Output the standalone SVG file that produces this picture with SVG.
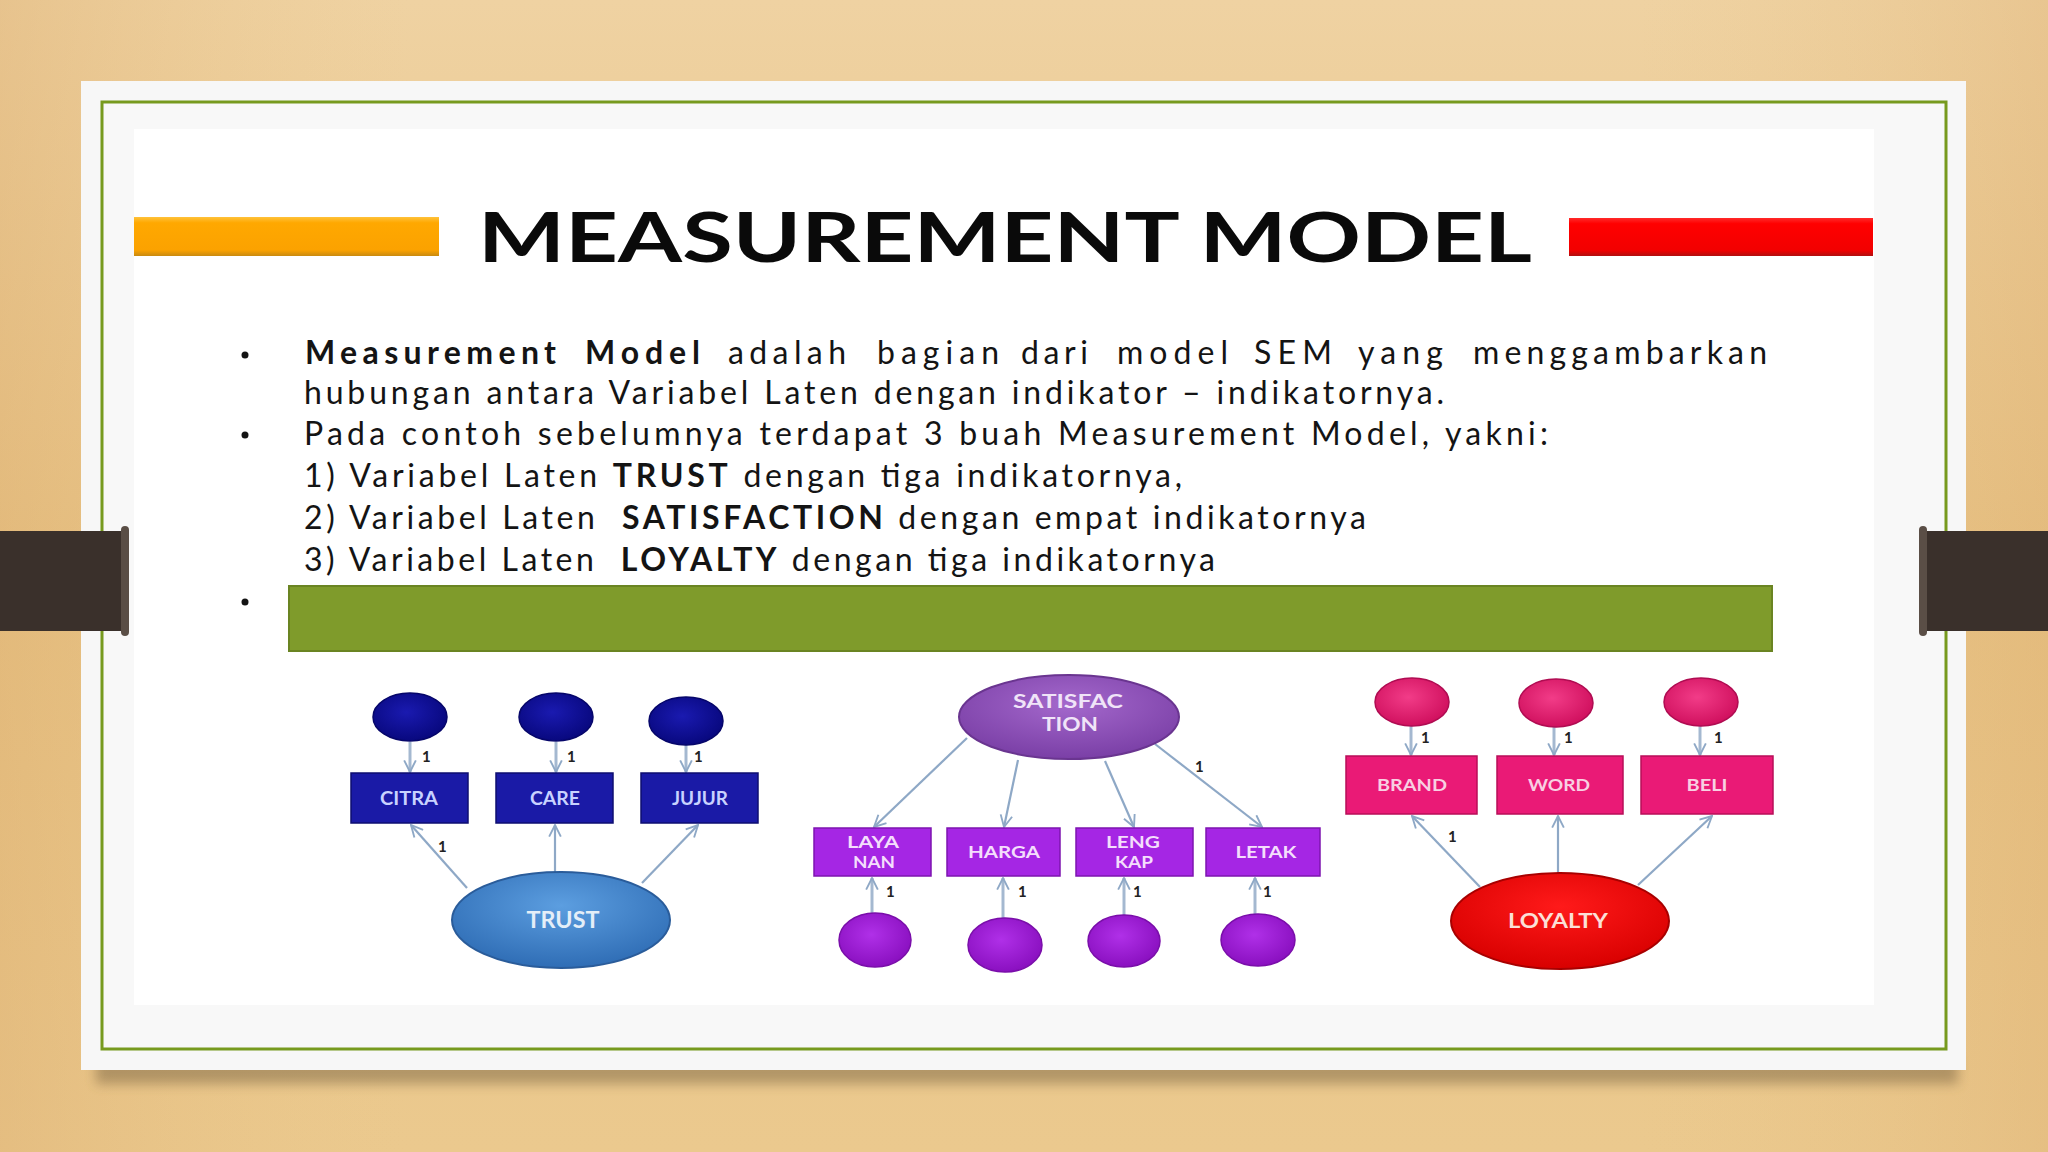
<svg xmlns="http://www.w3.org/2000/svg" width="2048" height="1152" viewBox="0 0 2048 1152">
<defs>
<linearGradient id="wood" x1="0" y1="0" x2="0" y2="1">
<stop offset="0" stop-color="#EFD2A2"/>
<stop offset="0.5" stop-color="#E8C385"/>
<stop offset="1" stop-color="#EBC98E"/>
</linearGradient>
<linearGradient id="woodSide" x1="0" y1="0" x2="1" y2="0">
<stop offset="0" stop-color="#D9A868" stop-opacity="0.35"/>
<stop offset="0.2" stop-color="#E8C385" stop-opacity="0"/>
<stop offset="0.8" stop-color="#E8C385" stop-opacity="0"/>
<stop offset="1" stop-color="#D9A868" stop-opacity="0.3"/>
</linearGradient>
<linearGradient id="orangeBar" x1="0" y1="0" x2="0" y2="1">
<stop offset="0" stop-color="#FFC23A"/>
<stop offset="0.15" stop-color="#FFA800"/>
<stop offset="0.85" stop-color="#FBA200"/>
<stop offset="1" stop-color="#C98A10"/>
</linearGradient>
<linearGradient id="redBar" x1="0" y1="0" x2="0" y2="1">
<stop offset="0" stop-color="#FF2A2A"/>
<stop offset="0.15" stop-color="#FF0000"/>
<stop offset="0.85" stop-color="#F20000"/>
<stop offset="1" stop-color="#B01010"/>
</linearGradient>
<radialGradient id="gBlueDot" cx="0.45" cy="0.4" r="0.6">
<stop offset="0" stop-color="#1A1AB0"/>
<stop offset="1" stop-color="#08087E"/>
</radialGradient>
<radialGradient id="gTrust" cx="0.5" cy="0.35" r="0.65">
<stop offset="0" stop-color="#5C9EE0"/>
<stop offset="1" stop-color="#2F6DB5"/>
</radialGradient>
<radialGradient id="gSat" cx="0.5" cy="0.35" r="0.65">
<stop offset="0" stop-color="#A468CC"/>
<stop offset="1" stop-color="#7A3FA6"/>
</radialGradient>
<radialGradient id="gPurpleDot" cx="0.45" cy="0.4" r="0.6">
<stop offset="0" stop-color="#B030E8"/>
<stop offset="1" stop-color="#8A10C0"/>
</radialGradient>
<radialGradient id="gPinkDot" cx="0.45" cy="0.4" r="0.6">
<stop offset="0" stop-color="#F23C88"/>
<stop offset="1" stop-color="#D0105E"/>
</radialGradient>
<radialGradient id="gLoyal" cx="0.5" cy="0.35" r="0.65">
<stop offset="0" stop-color="#FF1A1A"/>
<stop offset="1" stop-color="#D80000"/>
</radialGradient>
<filter id="blur" x="-5%" y="-50%" width="110%" height="200%">
<feGaussianBlur stdDeviation="6"/>
</filter>
<marker id="arr" viewBox="0 0 12 12" refX="11" refY="6" markerWidth="14" markerHeight="14" markerUnits="userSpaceOnUse" orient="auto">
<path d="M1,1 L11,6 L1,11" fill="none" stroke="#8EA8C6" stroke-width="1.6"/>
</marker>
<style>
.body { font-family: Lato, "Open Sans", "Liberation Sans", sans-serif; font-size: 32px; fill: #141414; }
.b { font-weight: bold; }
.title { font-family: Lato, "Open Sans", "Liberation Sans", sans-serif; font-size: 68px; font-weight: bold; fill: #0A0A0A; }
.bullet { fill: #141414; }
.nlab { font-family: Lato, "Open Sans", "Liberation Sans", sans-serif; font-weight: bold; text-anchor: middle; }
.one { font-family: Lato, "Liberation Sans", sans-serif; font-size: 15px; font-weight: bold; fill: #222; }
.conn { stroke: #8EA8C6; stroke-width: 2.2; fill: none; marker-end: url(#arr); }
.err { stroke: #A4B8D0; stroke-width: 3; fill: none; marker-end: url(#arr); }
.rBlue { fill: #1A1AA6; stroke: #0E0E70; stroke-width: 1.5; }
.rPurple { fill: #A526E4; stroke: #7E14B0; stroke-width: 1.5; }
.rPink { fill: #EA1A76; stroke: #B80E58; stroke-width: 1.5; }
</style>
</defs>

<!-- background -->
<rect x="0" y="0" width="2048" height="1152" fill="url(#wood)"/>
<rect x="0" y="0" width="2048" height="1152" fill="url(#woodSide)"/>

<!-- card -->
<rect x="96" y="1058" width="1862" height="26" fill="#6E5A3A" opacity="0.45" filter="url(#blur)"/>
<rect x="81" y="81" width="1885" height="989" fill="#F7F7F7"/>
<rect x="102" y="102" width="1844" height="947" fill="#F8F8F8" stroke="#779A1E" stroke-width="3"/>
<rect x="134" y="129" width="1740" height="876" fill="#FFFFFF"/>

<!-- side tabs -->
<rect x="0" y="531" width="126" height="100" fill="#3A302B"/>
<rect x="121" y="526" width="8" height="110" rx="4" fill="#5A4E46"/>
<rect x="1922" y="531" width="126" height="100" fill="#3A302B"/>
<rect x="1919" y="526" width="8" height="110" rx="4" fill="#5A4E46"/>

<!-- title -->
<rect x="134" y="217" width="305" height="39" fill="url(#orangeBar)"/>
<rect x="1569" y="218" width="304" height="38" fill="url(#redBar)"/>
<text class="title" x="478" y="262" textLength="1054" lengthAdjust="spacingAndGlyphs">MEASUREMENT MODEL</text>

<!-- body text -->
<circle class="bullet" cx="245" cy="355" r="3.5"/>
<circle class="bullet" cx="245" cy="435" r="3.5"/>
<circle class="bullet" cx="245" cy="602" r="3.5"/>
<g class="body">
<text class="b" x="305" y="364" textLength="251" lengthAdjust="spacing">Measurement</text>
<text class="b" x="585" y="364" textLength="115" lengthAdjust="spacing">Model</text>
<text x="728" y="364" textLength="118" lengthAdjust="spacing">adalah</text>
<text x="877" y="364" textLength="122" lengthAdjust="spacing">bagian</text>
<text x="1021" y="364" textLength="67" lengthAdjust="spacing">dari</text>
<text x="1117" y="364" textLength="111" lengthAdjust="spacing">model</text>
<text x="1254" y="364" textLength="78" lengthAdjust="spacing">SEM</text>
<text x="1358" y="364" textLength="85" lengthAdjust="spacing">yang</text>
<text x="1473" y="364" textLength="294" lengthAdjust="spacing">menggambarkan</text>
<text x="304" y="404" textLength="1140" lengthAdjust="spacing">hubungan antara Variabel Laten dengan indikator – indikatornya.</text>
<text x="304" y="445" textLength="1244" lengthAdjust="spacing">Pada contoh sebelumnya terdapat 3 buah Measurement Model, yakni:</text>
<text x="304" y="487" textLength="878" lengthAdjust="spacing">1) Variabel Laten <tspan class="b">TRUST</tspan> dengan tiga indikatornya,</text>
<text x="304" y="529" textLength="1062" lengthAdjust="spacing" xml:space="preserve">2) Variabel Laten  <tspan class="b">SATISFACTION</tspan> dengan empat indikatornya</text>
<text x="304" y="571" textLength="911" lengthAdjust="spacing" xml:space="preserve">3) Variabel Laten  <tspan class="b">LOYALTY</tspan> dengan tiga indikatornya</text>
</g>
<rect x="289" y="586" width="1483" height="65" fill="#7F9B2B" stroke="#6A8422" stroke-width="2"/>

<!-- connectors -->
<g id="connectors">
<line class="err" x1="410" y1="742" x2="410" y2="772"/>
<line class="err" x1="556" y1="742" x2="556" y2="772"/>
<line class="err" x1="686" y1="745" x2="686" y2="772"/>
<line class="conn" x1="467" y1="888" x2="411" y2="825"/>
<line class="conn" x1="555" y1="872" x2="555" y2="825"/>
<line class="conn" x1="642" y1="883" x2="698" y2="825"/>

<line class="conn" x1="967" y1="738" x2="874" y2="827"/>
<line class="conn" x1="1018" y1="760" x2="1004" y2="827"/>
<line class="conn" x1="1105" y1="761" x2="1134" y2="827"/>
<line class="conn" x1="1155" y1="744" x2="1262" y2="827"/>
<line class="err" x1="872" y1="913" x2="872" y2="878"/>
<line class="err" x1="1003" y1="918" x2="1003" y2="878"/>
<line class="err" x1="1124" y1="916" x2="1124" y2="878"/>
<line class="err" x1="1255" y1="915" x2="1255" y2="878"/>

<line class="err" x1="1411" y1="726" x2="1411" y2="755"/>
<line class="err" x1="1554" y1="727" x2="1554" y2="755"/>
<line class="err" x1="1700" y1="726" x2="1700" y2="755"/>
<line class="conn" x1="1480" y1="887" x2="1412" y2="816"/>
<line class="conn" x1="1558" y1="873" x2="1558" y2="816"/>
<line class="conn" x1="1638" y1="885" x2="1712" y2="816"/>

<text class="one" x="422" y="762">1</text>
<text class="one" x="567" y="762">1</text>
<text class="one" x="694" y="762">1</text>
<text class="one" x="438" y="852">1</text>
<text class="one" x="1195" y="772">1</text>
<text class="one" x="886" y="897">1</text>
<text class="one" x="1018" y="897">1</text>
<text class="one" x="1133" y="897">1</text>
<text class="one" x="1263" y="897">1</text>
<text class="one" x="1421" y="743">1</text>
<text class="one" x="1564" y="743">1</text>
<text class="one" x="1714" y="743">1</text>
<text class="one" x="1448" y="842">1</text>
</g>

<!-- TRUST model -->
<g id="e-citra"><ellipse cx="410" cy="717" rx="37" ry="24" fill="url(#gBlueDot)" stroke="#06066A" stroke-width="1.5"/></g>
<g id="e-care"><ellipse cx="556" cy="717" rx="37" ry="24" fill="url(#gBlueDot)" stroke="#06066A" stroke-width="1.5"/></g>
<g id="e-jujur"><ellipse cx="686" cy="721" rx="37" ry="24" fill="url(#gBlueDot)" stroke="#06066A" stroke-width="1.5"/></g>
<g id="citra"><rect class="rBlue" x="351" y="773" width="117" height="50"/><text class="nlab" x="409" y="805" font-size="19" fill="#C8D2FF" textLength="58" lengthAdjust="spacingAndGlyphs">CITRA</text></g>
<g id="care"><rect class="rBlue" x="496" y="773" width="117" height="50"/><text class="nlab" x="555" y="805" font-size="19" fill="#C8D2FF" textLength="50" lengthAdjust="spacingAndGlyphs">CARE</text></g>
<g id="jujur"><rect class="rBlue" x="641" y="773" width="117" height="50"/><text class="nlab" x="700" y="805" font-size="19" fill="#C8D2FF" textLength="56" lengthAdjust="spacingAndGlyphs">JUJUR</text></g>
<g id="trust"><ellipse cx="561" cy="920" rx="109" ry="48" fill="url(#gTrust)" stroke="#2A5C9A" stroke-width="2"/><text class="nlab" x="563" y="928" font-size="22" fill="#E4EEF8" textLength="73" lengthAdjust="spacingAndGlyphs">TRUST</text></g>

<!-- SATISFACTION model -->
<g id="satisfaction"><ellipse cx="1069" cy="717" rx="110" ry="42" fill="url(#gSat)" stroke="#6A3590" stroke-width="2"/><text class="nlab" x="1068" y="708" font-size="19" fill="#F0E4F8" textLength="110" lengthAdjust="spacingAndGlyphs">SATISFAC</text><text class="nlab" x="1070" y="731" font-size="19" fill="#F0E4F8" textLength="56" lengthAdjust="spacingAndGlyphs">TION</text></g>
<g id="layanan"><rect class="rPurple" x="814" y="828" width="117" height="48"/><text class="nlab" x="873" y="848" font-size="17" fill="#F4DEFC" textLength="52" lengthAdjust="spacingAndGlyphs">LAYA</text><text class="nlab" x="874" y="868" font-size="17" fill="#F4DEFC" textLength="42" lengthAdjust="spacingAndGlyphs">NAN</text></g>
<g id="harga"><rect class="rPurple" x="947" y="828" width="113" height="48"/><text class="nlab" x="1004" y="858" font-size="17" fill="#F4DEFC" textLength="72" lengthAdjust="spacingAndGlyphs">HARGA</text></g>
<g id="lengkap"><rect class="rPurple" x="1076" y="828" width="117" height="48"/><text class="nlab" x="1133" y="848" font-size="17" fill="#F4DEFC" textLength="54" lengthAdjust="spacingAndGlyphs">LENG</text><text class="nlab" x="1134" y="868" font-size="17" fill="#F4DEFC" textLength="38" lengthAdjust="spacingAndGlyphs">KAP</text></g>
<g id="letak"><rect class="rPurple" x="1206" y="828" width="114" height="48"/><text class="nlab" x="1266" y="858" font-size="17" fill="#F4DEFC" textLength="61" lengthAdjust="spacingAndGlyphs">LETAK</text></g>
<g id="e-layanan"><ellipse cx="875" cy="940" rx="36" ry="27" fill="url(#gPurpleDot)" stroke="#7A0EAA" stroke-width="1.5"/></g>
<g id="e-harga"><ellipse cx="1005" cy="945" rx="37" ry="27" fill="url(#gPurpleDot)" stroke="#7A0EAA" stroke-width="1.5"/></g>
<g id="e-lengkap"><ellipse cx="1124" cy="941" rx="36" ry="26" fill="url(#gPurpleDot)" stroke="#7A0EAA" stroke-width="1.5"/></g>
<g id="e-letak"><ellipse cx="1258" cy="940" rx="37" ry="26" fill="url(#gPurpleDot)" stroke="#7A0EAA" stroke-width="1.5"/></g>

<!-- LOYALTY model -->
<g id="e-brand"><ellipse cx="1412" cy="702" rx="37" ry="24" fill="url(#gPinkDot)" stroke="#B00C52" stroke-width="1.5"/></g>
<g id="e-word"><ellipse cx="1556" cy="703" rx="37" ry="24" fill="url(#gPinkDot)" stroke="#B00C52" stroke-width="1.5"/></g>
<g id="e-beli"><ellipse cx="1701" cy="702" rx="37" ry="24" fill="url(#gPinkDot)" stroke="#B00C52" stroke-width="1.5"/></g>
<g id="brand"><rect class="rPink" x="1346" y="756" width="131" height="58"/><text class="nlab" x="1412" y="791" font-size="17" fill="#F8D0E2" textLength="70" lengthAdjust="spacingAndGlyphs">BRAND</text></g>
<g id="word"><rect class="rPink" x="1497" y="756" width="126" height="58"/><text class="nlab" x="1559" y="791" font-size="17" fill="#F8D0E2" textLength="62" lengthAdjust="spacingAndGlyphs">WORD</text></g>
<g id="beli"><rect class="rPink" x="1641" y="756" width="132" height="58"/><text class="nlab" x="1707" y="791" font-size="17" fill="#F8D0E2" textLength="41" lengthAdjust="spacingAndGlyphs">BELI</text></g>
<g id="loyalty"><ellipse cx="1560" cy="921" rx="109" ry="48" fill="url(#gLoyal)" stroke="#A80000" stroke-width="2"/><text class="nlab" x="1558" y="928" font-size="21" fill="#FBE0D8" textLength="100" lengthAdjust="spacingAndGlyphs">LOYALTY</text></g>
</svg>
